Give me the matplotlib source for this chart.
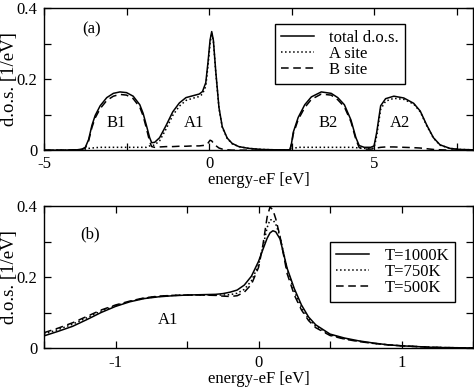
import matplotlib
matplotlib.use("Agg")
import matplotlib.pyplot as plt
from matplotlib.ticker import MultipleLocator

# panel (a): density of states vs energy
energy_a = [-5.0, -4.5, -4.0, -3.85, -3.75, -3.65, -3.55, -3.45, -3.3, -3.1, -2.9, -2.7, -2.5,
            -2.3, -2.1, -2.0, -1.9, -1.8, -1.74, -1.65, -1.5, -1.3, -1.1, -0.9, -0.7, -0.5,
            -0.3, -0.2, -0.1, -0.03, 0.03, 0.08, 0.13, 0.2, 0.3, 0.4, 0.55, 0.7, 0.9, 1.2,
            1.6, 2.0, 2.45, 2.5, 2.55, 2.7, 2.9, 3.1, 3.4, 3.7, 3.9, 4.1, 4.3, 4.45, 4.55,
            4.7, 4.9, 5.0, 5.08, 5.2, 5.35, 5.6, 5.9, 6.2, 6.4, 6.6, 6.8, 7.0, 7.3, 7.6, 8.0]
total_dos = [0, 0, 0.001, 0.003, 0.008, 0.03, 0.07, 0.098, 0.125, 0.148, 0.160, 0.164, 0.162,
             0.152, 0.128, 0.104, 0.07, 0.035, 0.021, 0.022, 0.035, 0.07, 0.108, 0.133, 0.148,
             0.153, 0.158, 0.165, 0.19, 0.25, 0.31, 0.334, 0.31, 0.225, 0.12, 0.066, 0.034,
             0.019, 0.01, 0.005, 0.002, 0.001, 0.001, 0.02, 0.05, 0.092, 0.128, 0.150, 0.164,
             0.160, 0.148, 0.128, 0.085, 0.035, 0.013, 0.008, 0.008, 0.012, 0.05, 0.125, 0.145,
             0.152, 0.147, 0.132, 0.11, 0.07, 0.035, 0.015, 0.005, 0.002, 0.001]
a_site = [0, 0, 0, 0.001, 0.003, 0.005, 0.006, 0.007, 0.008, 0.008, 0.008, 0.008, 0.008,
          0.008, 0.008, 0.008, 0.008, 0.012, 0.012, 0.015, 0.026, 0.06, 0.098, 0.124, 0.14,
          0.146, 0.151, 0.158, 0.18, 0.24, 0.30, 0.33, 0.307, 0.222, 0.118, 0.064, 0.033,
          0.018, 0.01, 0.005, 0.002, 0.001, 0.001, 0.003, 0.005, 0.008, 0.008, 0.008, 0.008,
          0.008, 0.008, 0.008, 0.008, 0.007, 0.006, 0.005, 0.005, 0.006, 0.04, 0.115, 0.138,
          0.146, 0.143, 0.13, 0.108, 0.068, 0.034, 0.014, 0.005, 0.002, 0.001]
b_site = [0, 0, 0.001, 0.002, 0.006, 0.026, 0.064, 0.091, 0.117, 0.140, 0.152, 0.157, 0.155,
          0.145, 0.121, 0.097, 0.062, 0.024, 0.01, 0.008, 0.009, 0.01, 0.01, 0.011, 0.011,
          0.012, 0.012, 0.013, 0.014, 0.02, 0.028, 0.026, 0.02, 0.013, 0.006, 0.003, 0.001,
          0, 0, 0, 0, 0, 0, 0.017, 0.045, 0.086, 0.12, 0.143, 0.158,
          0.155, 0.142, 0.122, 0.08, 0.03, 0.007, 0.003, 0.003, 0.004, 0.006, 0.008, 0.009,
          0.009, 0.008, 0.007, 0.006, 0.004, 0.002, 0.001, 0, 0, 0]

# panel (b): A1 band near eF for three temperatures
energy_b = [-1.5, -1.4, -1.3, -1.2, -1.1, -1.0, -0.9, -0.8, -0.7, -0.6, -0.5, -0.4, -0.3, -0.25,
            -0.2, -0.15, -0.1, -0.05, 0.0, 0.03, 0.06, 0.08, 0.1, 0.12, 0.15, 0.2, 0.25, 0.3,
            0.35, 0.4, 0.5, 0.6, 0.7, 0.8, 0.9, 1.0, 1.1, 1.2, 1.3, 1.4, 1.5]
dos_1000 = [0.035, 0.048, 0.062, 0.081, 0.101, 0.118, 0.131, 0.140, 0.145, 0.148, 0.150, 0.151,
            0.152, 0.154, 0.158, 0.164, 0.178, 0.203, 0.245, 0.278, 0.31, 0.325, 0.331, 0.328,
            0.308, 0.225, 0.168, 0.122, 0.088, 0.066, 0.040, 0.029, 0.021, 0.015, 0.010, 0.007,
            0.005, 0.003, 0.002, 0.0015, 0.001]
dos_750 = [0.04, 0.053, 0.068, 0.086, 0.105, 0.12, 0.132, 0.141, 0.146, 0.149, 0.150, 0.150,
           0.150, 0.150, 0.151, 0.155, 0.166, 0.19, 0.235, 0.285, 0.34, 0.362, 0.362, 0.35,
           0.315, 0.222, 0.16, 0.115, 0.083, 0.062, 0.038, 0.027, 0.02, 0.014, 0.01, 0.007,
           0.005, 0.003, 0.002, 0.0015, 0.001]
dos_500 = [0.044, 0.057, 0.072, 0.09, 0.108, 0.122, 0.133, 0.142, 0.147, 0.149, 0.150, 0.150,
           0.149, 0.147, 0.146, 0.148, 0.158, 0.18, 0.228, 0.29, 0.37, 0.398, 0.39, 0.365,
           0.315, 0.21, 0.15, 0.108, 0.078, 0.058, 0.036, 0.026, 0.019, 0.014, 0.01, 0.007,
           0.005, 0.003, 0.002, 0.0015, 0.001]

plt.rcParams["font.family"] = ["Liberation Serif", "DejaVu Serif"]
plt.rcParams["font.size"] = 12
plt.rcParams["axes.unicode_minus"] = False

fig = plt.figure(figsize=(4.74, 3.87), dpi=100)
ax1 = fig.add_axes([0.093, 0.612, 0.905, 0.367])
ax2 = fig.add_axes([0.093, 0.100, 0.905, 0.367])

lw = 1.1
dash = (0, (5, 3))
leg_style = dict(loc="upper left", handlelength=2.0, frameon=True, fancybox=False,
                 edgecolor="black", borderpad=0.35, borderaxespad=0, labelspacing=0.0,
                 handletextpad=0.9, framealpha=1)

ax1.plot(energy_a, total_dos, color="black", lw=lw, label="total d.o.s.")
ax1.plot(energy_a, a_site, color="black", lw=lw, linestyle=":", label="A site")
ax1.plot(energy_a, b_site, color="black", lw=lw, linestyle=dash, label="B site")
ax1.set_xlim(-5, 8)
ax1.set_ylim(0, 0.4)
ax1.xaxis.set_major_locator(MultipleLocator(5))
ax1.xaxis.set_minor_locator(MultipleLocator(2.5))
ax1.set_xlabel("energy-eF [eV]", labelpad=0)
ax1.text(-3.85, 0.33, "(a)")
for name, x in [("B1", -2.8), ("A1", -0.45), ("B2", 3.6), ("A2", 5.8)]:
    ax1.text(x, 0.076, name, ha="center", va="center")
ax1.legend(bbox_to_anchor=(0.538, 0.887), **leg_style)

ax2.plot(energy_b, dos_1000, color="black", lw=lw, label="T=1000K")
ax2.plot(energy_b, dos_750, color="black", lw=lw, linestyle=":", label="T=750K")
ax2.plot(energy_b, dos_500, color="black", lw=lw, linestyle=dash, label="T=500K")
ax2.set_xlim(-1.5, 1.5)
ax2.set_ylim(0, 0.4)
ax2.xaxis.set_major_locator(MultipleLocator(1))
ax2.xaxis.set_minor_locator(MultipleLocator(0.5))
ax2.set_xlabel("energy-eF [eV]", labelpad=0)
ax2.text(-1.25, 0.31, "(b)")
ax2.text(-0.63, 0.08, "A1", ha="center", va="center")
ax2.legend(bbox_to_anchor=(0.667, 0.746), **leg_style)

for ax in (ax1, ax2):
    ax.yaxis.set_major_locator(MultipleLocator(0.2))
    ax.yaxis.set_minor_locator(MultipleLocator(0.1))
    ax.yaxis.set_major_formatter(plt.FuncFormatter(lambda v, p: "0" if v == 0 else f"{v:.1f}"))
    ax.tick_params(which="both", direction="in", top=True, right=True, length=5, width=0.9)
    ax.tick_params(axis="y", which="major", pad=5)
    ax.tick_params(axis="x", which="major", pad=4.5)
    ax.set_ylabel("d.o.s. [1/eV]", fontsize=13.5, labelpad=-1)
    for s in ax.spines.values():
        s.set_linewidth(1.0)
    ax.legend_.get_frame().set_linewidth(1.0)

fig.savefig("out.png", dpi=100)
